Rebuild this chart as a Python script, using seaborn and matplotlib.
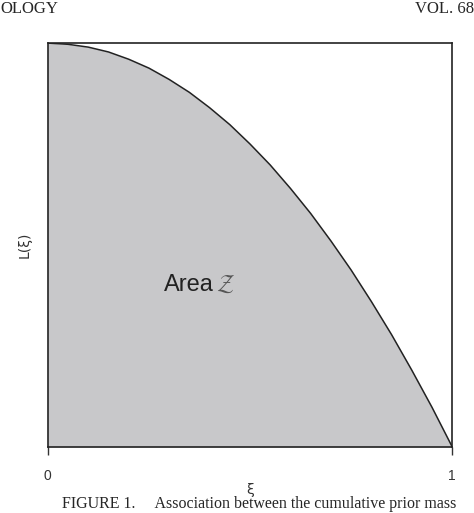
import matplotlib
matplotlib.use("Agg")
import matplotlib.pyplot as plt
import seaborn as sns
import pandas as pd

# curve (xi vs L(xi), normalised)
xi = [0.0, 0.05, 0.1, 0.15, 0.2, 0.25, 0.3, 0.35, 0.4, 0.45, 0.5, 0.55, 0.6,
      0.65, 0.7, 0.75, 0.8, 0.85, 0.9, 0.95, 1.0]
lik = [1.0, 0.997, 0.99, 0.978, 0.96, 0.938, 0.91, 0.878, 0.84, 0.798, 0.75,
       0.698, 0.64, 0.578, 0.51, 0.438, 0.36, 0.278, 0.19, 0.098, 0.0]
x_ticks = [0, 1]
x_tick_labels = ["0", "1"]

df = pd.DataFrame({"xi": xi, "L": lik})

sns.set_style("white")
plt.rcParams["font.family"] = ["Liberation Sans", "DejaVu Sans"]
fig = plt.figure(figsize=(4.74, 5.13), dpi=100)
ax = fig.add_axes([0.101, 0.129, 0.853, 0.787])

ax.fill_between(df["xi"], df["L"], 0, color="#c8c8ca", lw=0)
sns.lineplot(data=df, x="xi", y="L", ax=ax, color="#222222", lw=1.1)

ax.set_xlim(0, 1)
ax.set_ylim(0, 1)
ax.set_xticks(x_ticks)
ax.set_xticklabels(x_tick_labels, fontsize=10, color="#333333")
ax.set_yticks([])
ax.tick_params(axis="x", direction="out", length=6, width=1, color="#333333",
               bottom=True, pad=10)
for s in ax.spines.values():
    s.set_color("#222222")
    s.set_linewidth(1.2)
ax.set_xlabel("ξ", fontsize=10, color="#333333", labelpad=0,
              family=["DejaVu Sans"])
ax.set_ylabel("L(ξ)", fontsize=10, color="#333333", labelpad=12,
              family=["DejaVu Sans"])

ax.text(0.41, 0.40, "Area", fontsize=17, ha="right", va="center", color="#222222")
ax.text(0.415, 0.40, r"$\mathcal{Z}$", fontsize=17, ha="left", va="center", color="#555555")

fig.text(0.0, 0.982, "OLOGY", fontsize=12, family="Liberation Serif", va="center")
fig.text(1.0, 0.982, "VOL. 68", fontsize=12, family="Liberation Serif", va="center", ha="right")
fig.text(0.13, 0.002, "FIGURE 1.     Association between the cumulative prior mass",
         fontsize=11.5, family="Liberation Serif", va="bottom")

fig.savefig("out.png", dpi=100)
